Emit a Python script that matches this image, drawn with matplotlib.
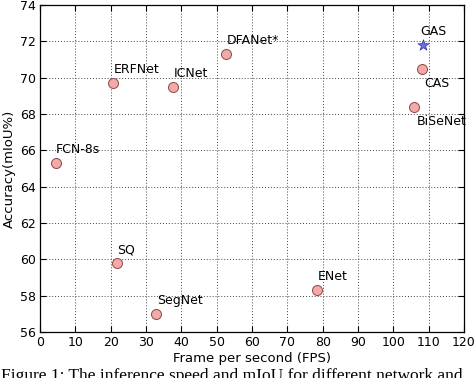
import matplotlib
matplotlib.use("Agg")
import matplotlib.pyplot as plt

names = ["FCN-8s", "ERFNet", "ICNet", "DFANet*", "SQ", "SegNet", "ENet", "BiSeNet", "CAS"]
fps = [4.4, 20.7, 37.7, 52.6, 21.7, 32.9, 78.5, 105.9, 108.1]
miou = [65.3, 69.7, 69.5, 71.3, 59.8, 57.0, 58.3, 68.4, 70.5]
gas_fps = [108.5]
gas_miou = [71.8]
label_below = ["BiSeNet", "CAS"]

xticks = list(range(0, 121, 10))
yticks = list(range(56, 75, 2))

fig = plt.figure(figsize=(4.74, 3.78), dpi=100)
ax = fig.add_axes([40/474, 1 - 332/378, 424/474, 327/378])

ax.scatter(fps, miou, s=52, facecolor="#f4a8a8", edgecolor="#8b4a4a", linewidth=0.7, zorder=3)
ax.scatter(gas_fps, gas_miou, s=70, marker="*", facecolor="#6f6fe6", edgecolor="#30309a", linewidth=0.5, zorder=3)

for n, x, y in zip(names, fps, miou):
    if n in label_below:
        ax.annotate(n, (x, y), xytext=(1.5, -6), textcoords="offset points", ha="left", va="top", fontsize=9)
    else:
        ax.annotate(n, (x, y), xytext=(0.5, 5), textcoords="offset points", ha="left", va="bottom", fontsize=9)
ax.annotate("GAS", (gas_fps[0], gas_miou[0]), xytext=(-2, 5), textcoords="offset points", ha="left", va="bottom", fontsize=9)

ax.set_xlim(0, 120)
ax.set_ylim(56, 74)
ax.set_xticks(xticks)
ax.set_yticks(yticks)
ax.tick_params(direction="in", top=True, right=True, labelsize=9, length=4, pad=3)
ax.grid(True, color="#444444", linestyle=(0, (1, 2)), linewidth=0.7)
ax.set_axisbelow(True)
for s in ax.spines.values():
    s.set_linewidth(0.9)
ax.set_xlabel("Frame per second (FPS)", fontsize=9.5, labelpad=2)
ax.set_ylabel("Accuracy(mIoU%)", fontsize=9.5, labelpad=3)

fig.text(0.003, 1 - 384/378, "Figure 1: The inference speed and mIoU for different network and",
         family="Liberation Serif", fontsize=12.5, ha="left", va="bottom")

fig.savefig("out.png", dpi=100)
